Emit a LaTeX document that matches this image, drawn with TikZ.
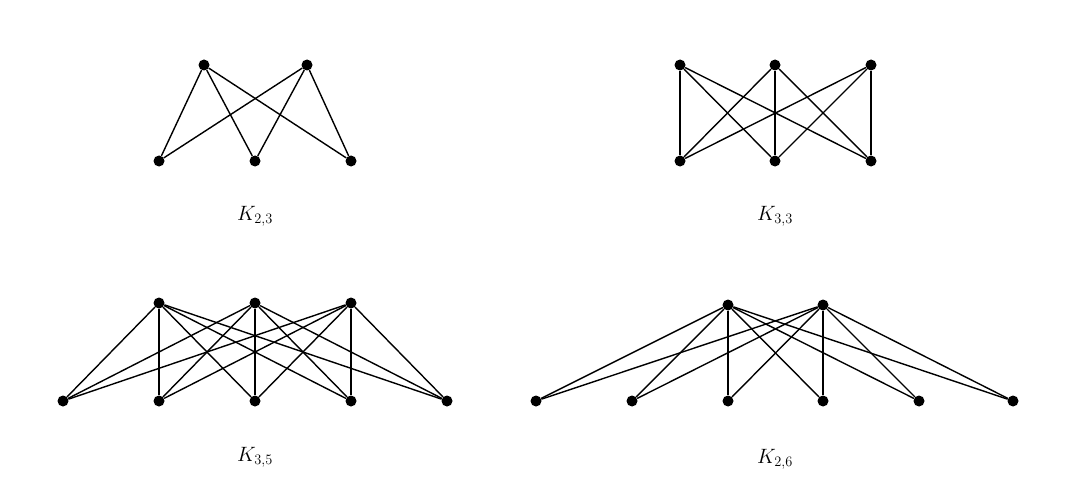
\documentclass[tikz,border=0pt]{standalone}
\begin{document}
\begin{tikzpicture}[x=1pt,y=-1pt,
  vtx/.style={circle,fill=black,inner sep=0pt,minimum size=11pt},
  edge/.style={line width=1.4pt},
  lab/.style={font=\fontsize{20}{24}\selectfont}]
\useasboundingbox (0,0) rectangle (1068,492);
% K23
\foreach \i/\x in {1/204,2/307} \node[vtx] (a\i) at (\x,65) {};
\foreach \i/\x in {1/159,2/255,3/351} \node[vtx] (b\i) at (\x,161) {};
\foreach \i in {1,2} \foreach \j in {1,2,3} \draw[edge] (a\i) -- (b\j);
\node[lab] (l1) at (255,216) {$K_{2,3}$};
% K33
\foreach \i/\x in {1/680,2/775,3/871} {\node[vtx] (c\i) at (\x,65) {}; \node[vtx] (d\i) at (\x,161) {};}
\foreach \i in {1,2,3} \foreach \j in {1,2,3} \draw[edge] (c\i) -- (d\j);
\node[lab] (l2) at (775,216) {$K_{3,3}$};
% K35
\foreach \i/\x in {1/159,2/255,3/351} \node[vtx] (e\i) at (\x,303) {};
\foreach \i/\x in {1/63,2/159,3/255,4/351,5/447} \node[vtx] (f\i) at (\x,401) {};
\foreach \i in {1,2,3} \foreach \j in {1,...,5} \draw[edge] (e\i) -- (f\j);
\node[lab] (l3) at (255,457) {$K_{3,5}$};
% K26
\foreach \i/\x in {1/728,2/823} \node[vtx] (g\i) at (\x,305) {};
\foreach \i/\x in {1/536,2/632,3/728,4/823,5/919,6/1013} \node[vtx] (h\i) at (\x,401) {};
\foreach \i in {1,2} \foreach \j in {1,...,6} \draw[edge] (g\i) -- (h\j);
\node[lab] (l4) at (775,459) {$K_{2,6}$};
\end{tikzpicture}
\end{document}
